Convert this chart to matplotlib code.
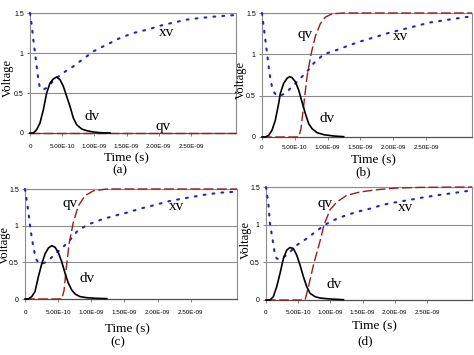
import matplotlib
matplotlib.use('Agg')
import matplotlib.pyplot as plt
import numpy as np

W, H = 474, 355

# axis ticks (time axis in ns, labelled in seconds like the Excel original)
time_ticks_ns = [0, 0.5, 1.0, 1.5, 2.0, 2.5]
time_tick_labels = ['0', '5.00E-10', '1.00E-09', '1.50E-09', '2.00E-09', '2.50E-09']
volt_ticks = [0, 0.5, 1, 1.5]
volt_tick_labels = ['0', '0.5', '1', '1.5']

# ---- panel (a) ----
a_xv_t = [0, 0.026, 0.052, 0.078, 0.104, 0.129, 0.155, 0.197, 0.259, 0.311, 0.388, 0.466,
          0.570, 0.673, 0.777, 0.880, 0.984, 1.087, 1.243, 1.398, 1.605, 1.812, 2.019,
          2.227, 2.434, 2.641, 2.900, 3.2]
a_xv_v = [1.5, 1.354, 1.167, 1.0, 0.833, 0.667, 0.5625, 0.542, 0.5625, 0.604, 0.679, 0.717,
          0.783, 0.833, 0.896, 0.958, 1.02, 1.0625, 1.125, 1.1875, 1.25, 1.29, 1.34,
          1.38, 1.417, 1.4375, 1.458, 1.475]
a_dv_t = [0, 0.052, 0.104, 0.155, 0.207, 0.259, 0.311, 0.362, 0.414, 0.466, 0.518, 0.570,
          0.621, 0.673, 0.725, 0.803, 0.880, 0.984, 1.087, 1.243]
a_dv_v = [0, 0, 0.042, 0.125, 0.29, 0.5, 0.625, 0.675, 0.70, 0.667, 0.583, 0.458,
          0.333, 0.188, 0.104, 0.05, 0.029, 0.0125, 0.004, 0]
a_qv_t = [0, 3.2]
a_qv_v = [0, 0]

# ---- panel (b) ----
b_xv_t = [0, 0.025, 0.051, 0.076, 0.102, 0.127, 0.152, 0.178, 0.218, 0.254, 0.330, 0.406,
          0.483, 0.584, 0.686, 0.787, 0.940, 1.143, 1.346, 1.549, 1.752, 1.956, 2.159,
          2.362, 2.565, 2.768, 2.971, 3.2]
b_xv_v = [1.5, 1.338, 1.176, 1.014, 0.851, 0.709, 0.608, 0.547, 0.507, 0.495, 0.519, 0.568,
          0.628, 0.709, 0.791, 0.892, 1.0, 1.054, 1.115, 1.168, 1.216, 1.265, 1.305,
          1.346, 1.386, 1.411, 1.435, 1.46]
b_dv_t = [0, 0.051, 0.102, 0.152, 0.203, 0.254, 0.279, 0.330, 0.381, 0.422, 0.457, 0.508,
          0.559, 0.609, 0.660, 0.711, 0.762, 0.838, 0.940, 1.092, 1.244]
b_dv_v = [0, 0, 0.02, 0.081, 0.203, 0.405, 0.527, 0.649, 0.709, 0.730, 0.718, 0.669,
          0.568, 0.426, 0.284, 0.162, 0.101, 0.053, 0.028, 0.012, 0.004]
b_qv_t = [0, 0.559, 0.594, 0.635, 0.686, 0.747, 0.813, 0.889, 0.965, 1.067, 1.244, 3.2]
b_qv_v = [0, 0, 0.1, 0.38, 0.73, 1.0, 1.22, 1.37, 1.45, 1.49, 1.5, 1.5]

# ---- panel (c) ----
c_xv_t = [0, 0.025, 0.050, 0.076, 0.101, 0.126, 0.151, 0.176, 0.217, 0.252, 0.328, 0.403,
          0.479, 0.58, 0.68, 0.781, 0.932, 1.134, 1.335, 1.537, 1.738, 1.940, 2.142,
          2.343, 2.545, 2.746, 2.948, 3.2]
c_xv_v = [1.5, 1.35, 1.19, 1.0, 0.845, 0.71, 0.6, 0.53, 0.485, 0.477, 0.509, 0.568,
          0.632, 0.714, 0.805, 0.918, 1.009, 1.077, 1.132, 1.177, 1.232, 1.277, 1.327,
          1.364, 1.395, 1.427, 1.45, 1.464]
c_dv_t = [0, 0.05, 0.101, 0.151, 0.202, 0.252, 0.302, 0.353, 0.403, 0.454, 0.504, 0.554,
          0.605, 0.655, 0.705, 0.756, 0.831, 0.932, 1.083, 1.235]
c_dv_v = [0, 0, 0.032, 0.1, 0.305, 0.477, 0.614, 0.695, 0.727, 0.705, 0.632, 0.509,
          0.35, 0.214, 0.123, 0.068, 0.032, 0.018, 0.009, 0.005]
c_qv_t = [0, 0.554, 0.59, 0.62, 0.665, 0.731, 0.806, 0.907, 1.033, 1.235, 3.2]
c_qv_v = [0, 0, 0.12, 0.4, 0.75, 1.05, 1.27, 1.41, 1.475, 1.5, 1.5]

# ---- panel (d) ----
d_xv_t = [0, 0.036, 0.062, 0.104, 0.14, 0.166, 0.207, 0.322, 0.477, 0.633, 0.788, 0.918,
          1.048, 1.203, 1.411, 1.618, 1.825, 2.033, 2.24, 2.448, 2.655, 2.915, 3.2]
d_xv_v = [1.5, 1.28, 1.015, 0.794, 0.596, 0.552, 0.538, 0.596, 0.728, 0.816, 0.917, 1.0,
          1.059, 1.112, 1.17, 1.213, 1.266, 1.30, 1.33, 1.363, 1.39, 1.42, 1.456]
d_dv_t = [0, 0.062, 0.114, 0.166, 0.218, 0.27, 0.322, 0.373, 0.425, 0.477, 0.529, 0.581,
          0.633, 0.685, 0.762, 0.84, 0.996, 1.203]
d_dv_v = [0, 0, 0.044, 0.176, 0.353, 0.551, 0.662, 0.697, 0.684, 0.596, 0.463, 0.309,
          0.176, 0.088, 0.044, 0.026, 0.013, 0.004]
d_qv_t = [0, 0.607, 0.659, 0.747, 0.83, 0.902, 0.996, 1.099, 1.255, 1.462, 1.722, 2.033,
          2.396, 3.2]
d_qv_v = [0, 0, 0.176, 0.499, 0.75, 1.0, 1.2, 1.3, 1.39, 1.434, 1.464, 1.486, 1.495, 1.5]

SERIF = 'Liberation Serif'
SANS = 'Liberation Sans'

# layout in pixels of the 474x355 picture: plot box, label positions, tick pad
panels = [
    dict(name='(a)', box=(30, 13, 236, 133), pad=8,
         xv=(a_xv_t, a_xv_v), dv=(a_dv_t, a_dv_v), qv=(a_qv_t, a_qv_v),
         tags={'xv': (2.12, 1.25), 'dv': (0.96, 0.21), 'qv': (2.07, 0.08)},
         ylab=(8, 78), xlab=(126, 158), cap=(120, 170)),
    dict(name='(b)', box=(262, 13, 472, 137), pad=5,
         xv=(b_xv_t, b_xv_v), dv=(b_dv_t, b_dv_v), qv=(b_qv_t, b_qv_v),
         tags={'xv': (2.11, 1.22), 'dv': (0.99, 0.22), 'qv': (0.66, 1.24)},
         ylab=(241, 80), xlab=(373, 160), cap=(363, 172)),
    dict(name='(c)', box=(25, 189, 237, 299), pad=8,
         xv=(c_xv_t, c_xv_v), dv=(c_dv_t, c_dv_v), qv=(c_qv_t, c_qv_v),
         tags={'xv': (2.29, 1.26), 'dv': (0.93, 0.28), 'qv': (0.68, 1.30)},
         ylab=(4.5, 245), xlab=(127, 329), cap=(118, 342)),
    dict(name='(d)', box=(266, 187, 472, 300), pad=7,
         xv=(d_xv_t, d_xv_v), dv=(d_dv_t, d_dv_v), qv=(d_qv_t, d_qv_v),
         tags={'xv': (2.16, 1.23), 'dv': (1.05, 0.2), 'qv': (0.92, 1.28)},
         ylab=(246, 240), xlab=(374, 326), cap=(365, 341)),
]

fig = plt.figure(figsize=(W / 100, H / 100), dpi=100)
fig.patch.set_facecolor('white')

for p in panels:
    x0, y0, x1, y1 = p['box']
    ax = fig.add_axes([x0 / W, 1 - y1 / H, (x1 - x0) / W, (y1 - y0) / H])
    ax.set_xlim(0, 3.2e-9)
    ax.set_ylim(0, 1.5)

    for v in volt_ticks[1:]:
        ax.axhline(v, color='#8c8c8c', lw=0.8, zorder=1)

    t, v = p['xv']
    ax.plot(np.array(t) * 1e-9, v, color='#1f1fe0', lw=1.5,
            linestyle=(0, (0.9, 3.4)), dash_capstyle='round', clip_on=False, zorder=3)
    t, v = p['qv']
    ax.plot(np.array(t) * 1e-9, v, color='#9b1c1c', lw=1.0,
            linestyle=(0, (7, 2.5)), clip_on=False, zorder=4)
    t, v = p['dv']
    ax.plot(np.array(t) * 1e-9, v, color='black', lw=1.2, clip_on=False, zorder=5)

    for name, (tx, ty) in p['tags'].items():
        ax.text(tx * 1e-9, ty, name, fontsize=11, family=SERIF, ha='center', va='center')

    ax.set_xticks(np.array(time_ticks_ns) * 1e-9)
    ax.set_xticklabels(time_tick_labels, fontsize=4.5, family=SANS)
    ax.set_yticks(volt_ticks)
    ax.set_yticklabels(volt_tick_labels, fontsize=5, family=SANS)
    ax.tick_params(axis='x', length=2, width=0.6, color='#707070', pad=p['pad'] * 0.72)
    ax.tick_params(axis='y', length=2.5, width=0.6, color='#707070', pad=2)

    for side in ['left', 'right', 'top']:
        ax.spines[side].set_color('#8c8c8c')
        ax.spines[side].set_linewidth(0.8)
    ax.spines['bottom'].set_color('#505050')
    ax.spines['bottom'].set_linewidth(0.9)

    lx, ly = p['ylab']
    fig.text(lx / W, 1 - ly / H, 'Voltage', rotation=90, fontsize=9, family=SERIF,
             ha='center', va='center')
    tx, ty = p['xlab']
    fig.text(tx / W, 1 - ty / H, 'Time (s)', fontsize=9.5, family=SERIF,
             ha='center', va='center')
    cx, cy = p['cap']
    fig.text(cx / W, 1 - cy / H, p['name'], fontsize=9.5, family=SERIF,
             ha='center', va='center')

fig.savefig('out.png', dpi=100)
plt.close(fig)
